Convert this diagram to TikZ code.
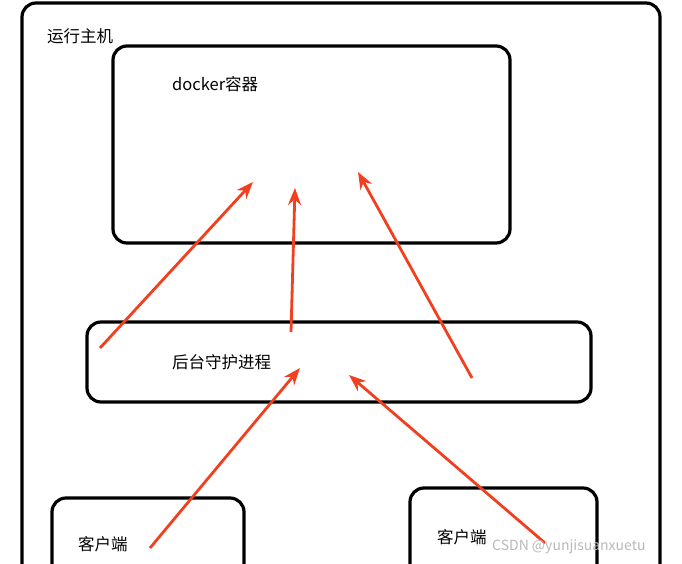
\documentclass[tikz,border=0pt]{standalone}
\usepackage{fontspec}
\setmainfont{Noto Sans CJK SC}
\usetikzlibrary{arrows.meta}
\definecolor{arr}{HTML}{F2401F}
\tikzset{
  box/.style={draw=black,line width=3.2pt,rounded corners=14pt},
  lab/.style={anchor=west,inner sep=0pt,font=\fontsize{16.5}{18}\selectfont},
  redarrow/.style={draw=arr,line width=2.8pt,-{Stealth[length=17pt,width=13pt]}}
}
\begin{document}
\begin{tikzpicture}[x=1pt,y=-1pt]
\useasboundingbox (0,0) rectangle (682,564);
\draw[box] (22,600) -- (22,3) -- (660,3) -- (660,600);
\node[lab] (host) at (47,36) {运行主机};
\draw[box] (113,46) rectangle (510,243);
\node[lab] (docker) at (172,84) {docker容器};
\draw[box] (87,322) rectangle (591,402);
\node[lab] (daemon) at (172,362) {后台守护进程};
\draw[box] (52,498) rectangle (244,600);
\node[lab] (c1) at (78,544) {客户端};
\draw[box] (410,488) rectangle (597,600);
\node[lab] (c2) at (437,537) {客户端};
\coordinate (a1s) at (100,348); \coordinate (a1e) at (253,182);
\coordinate (a2s) at (291,332); \coordinate (a2e) at (295,188);
\coordinate (a3s) at (472,378); \coordinate (a3e) at (358,172);
\coordinate (a4s) at (150,548); \coordinate (a4e) at (300,368);
\coordinate (a5s) at (545,543); \coordinate (a5e) at (349,375);
\draw[redarrow] (a1s) -- (a1e);
\draw[redarrow] (a2s) -- (a2e);
\draw[redarrow] (a3s) -- (a3e);
\draw[redarrow] (a4s) -- (a4e);
\draw[redarrow] (a5s) -- (a5e);
\node[anchor=west,inner sep=0pt,text=gray!55,font=\fontsize{14}{16}\selectfont] (wm) at (492,547) {CSDN @yunjisuanxuetu};
\end{tikzpicture}
\end{document}
